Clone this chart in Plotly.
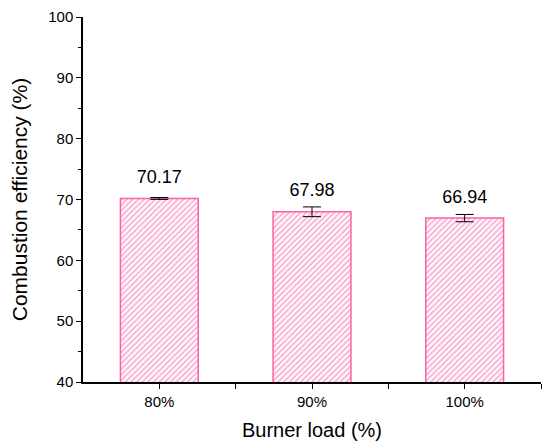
import plotly.graph_objects as go

# Burner load test results
loads = ['80%', '90%', '100%']
efficiency = [70.17, 67.98, 66.94]
efficiency_err = [0.15, 0.8, 0.6]
labels = ['70.17', '67.98', '66.94']

pink = '#FF5FA8'
font = 'Liberation Sans, Arial, sans-serif'

xpos = list(range(len(loads)))

fig = go.Figure()
fig.add_trace(go.Bar(
    x=xpos, y=efficiency, width=0.51, base=0,
    marker=dict(color='white', line=dict(color=pink, width=1.5),
                pattern=dict(shape='/', fgcolor='#F06AAE', bgcolor='white',
                             size=4, solidity=0.5)),
    error_y=dict(type='data', array=efficiency_err, color='black',
                 thickness=1, width=9),
    showlegend=False,
))

# value labels above the bars
fig.add_trace(go.Scatter(
    x=xpos, y=[v + 3.3 for v in efficiency], mode='text', text=labels,
    textfont=dict(family=font, size=18, color='black'),
    showlegend=False, hoverinfo='skip',
))

# page body adds an 8px offset, so margins are shifted to compensate
fig.update_layout(
    width=550, height=446,
    margin=dict(l=75, r=17, t=9, b=72),
    paper_bgcolor='white', plot_bgcolor='white',
    font=dict(family=font, color='black'),
)
fig.update_xaxes(
    range=[-0.5, 2.5], tickmode='array', tickvals=xpos, ticktext=loads,
    ticks='outside', ticklen=5, tickwidth=1, tickcolor='black',
    minor=dict(tickmode='array', tickvals=[0.5, 1.5, 2.5], ticks='outside',
               ticklen=5, tickcolor='black', tickwidth=1),
    showline=True, linecolor='black', linewidth=1.5, showgrid=False,
    zeroline=False, tickfont=dict(size=15), automargin=False,
    title=dict(text='Burner load (%)', font=dict(size=20), standoff=14),
)
fig.update_yaxes(
    range=[40, 100], dtick=10, ticks='outside', ticklen=5, tickwidth=1,
    tickcolor='black', ticklabeloverflow='allow',
    minor=dict(dtick=5, ticks='outside', ticklen=3, tickcolor='black', tickwidth=1),
    showline=True, linecolor='black', linewidth=1.5, showgrid=False,
    zeroline=False, tickfont=dict(size=15), automargin=False,
    title=dict(text='Combustion efficiency (%)', font=dict(size=21), standoff=24),
)

fig.write_html('out.html')
